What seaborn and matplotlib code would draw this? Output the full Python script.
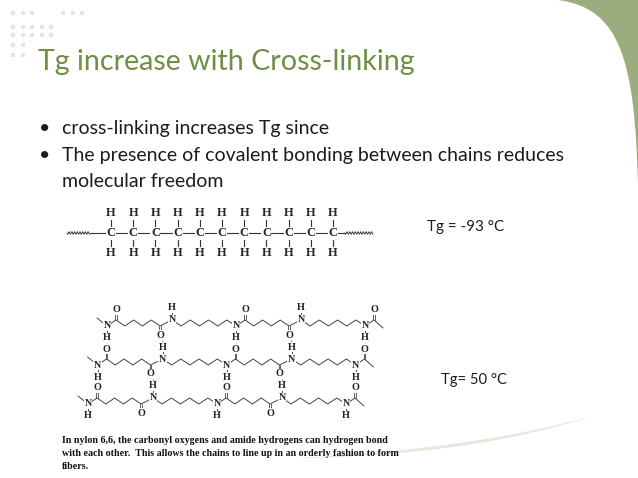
import numpy as np
import matplotlib
matplotlib.use('Agg')
import matplotlib.pyplot as plt
from matplotlib.path import Path
from matplotlib.patches import PathPatch
import seaborn as sns

# ------- slide content -------- #
title = 'Tg increase with Cross-linking'
bullets = ['cross-linking increases Tg since',
           'The presence of covalent bonding between chains reduces',
           'molecular freedom']
bullet_marks = [True, True, False]
tg_labels = ['Tg = -93 °C', 'Tg= 50 °C']
caption = ['In nylon 6,6, the carbonyl oxygens and amide hydrogens can hydrogen bond',
           'with each other.  This allows the chains to line up in an orderly fashion to form',
           'fibers.']
pe_carbons = 11          # carbons drawn in the polyethylene chain
nylon_chains = 3         # stacked nylon 6,6 chains
nylon_repeats = 2        # full repeat units per chain

# decoration dots top-left (pixel grid)
dot_x = [13, 23, 32, 63, 73, 82, 13, 23, 32, 42, 51, 13, 23, 32, 42, 51, 13, 23, 13, 23]
dot_y = [13, 13, 13, 13, 13, 13, 27, 27, 27, 27, 27, 35, 35, 35, 35, 35, 45, 45, 55, 55]

sns.set_theme(style='white')
plt.rcParams['font.family'] = ['Lato', 'DejaVu Sans']

fig = plt.figure(figsize=(6.38, 4.78), dpi=100)
ax = fig.add_axes([0, 0, 1, 1])
ax.set_xlim(0, 638)
ax.set_ylim(478, 0)
ax.axis('off')

green = '#6f8f45'
ink = '#1c1c1c'
bond = '#333333'

# green swoosh top right
verts = [(558, 0), (620, 8), (635, 60), (638, 186), (640, 186), (640, 0), (558, 0)]
codes = [Path.MOVETO, Path.CURVE4, Path.CURVE4, Path.CURVE4, Path.LINETO, Path.LINETO, Path.CLOSEPOLY]
ax.add_patch(PathPatch(Path(verts, codes), facecolor='#9bad7f', edgecolor='none'))

# faint swoosh bottom
t = np.linspace(0, 1, 60)
sx = (1 - t) ** 2 * 300 + 2 * (1 - t) * t * 470 + t ** 2 * 585
sy = (1 - t) ** 2 * 458 + 2 * (1 - t) * t * 452 + t ** 2 * 418
for i in range(len(t) - 1):
    w = 0.3 + 1.8 * np.sin(np.pi * t[i])
    ax.plot(sx[i:i + 2], sy[i:i + 2], color='#e4e9dc', lw=w, solid_capstyle='round', zorder=0)

sns.scatterplot(x=dot_x, y=dot_y, marker='s', s=10, color='#e4e4e0', edgecolor='none', ax=ax, legend=False)

# title and bullets
ax.text(38, 70, title, fontsize=20.6, color=green, va='baseline')
for i, (line, mark) in enumerate(zip(bullets, bullet_marks)):
    yb = [134, 161, 187][i]
    if mark:
        ax.text(39, yb, '•', fontsize=14, color=ink, va='baseline')
    ax.text(62, yb, line, fontsize=14, color=ink, va='baseline')

ax.text(427, 231, tg_labels[0], fontsize=10.9, color=ink, va='baseline')
ax.text(441, 384, tg_labels[1], fontsize=10.6, color=ink, va='baseline')

serif = ['Liberation Serif', 'DejaVu Serif']
bbox = dict(facecolor='white', edgecolor='none', pad=0.4)

# ------- polyethylene -------- #
cx = 111 + 22.2 * np.arange(pe_carbons)
cy = 233
ax.plot([90, cx[-1] + 12], [cy, cy], color=bond, lw=0.8)
for x in cx:
    ax.plot([x, x], [cy - 18, cy + 18], color=bond, lw=0.8)
    ax.text(x, cy, 'C', fontsize=9, family=serif, weight='bold', ha='center', va='center', bbox=bbox)
    ax.text(x, cy - 20, 'H', fontsize=9, family=serif, weight='bold', ha='center', va='center', bbox=bbox)
    ax.text(x, cy + 20, 'H', fontsize=9, family=serif, weight='bold', ha='center', va='center', bbox=bbox)
for x0, x1 in [(67, 90), (cx[-1] + 12, cx[-1] + 40)]:
    wx = np.linspace(x0, x1, 80)
    ax.plot(wx, cy + 1.3 * np.sin((wx - x0) * 2.3), color=bond, lw=0.6)

# ------- nylon 6,6 sheet -------- #
period = 129
lab = dict(fontsize=7.3, family=serif, weight='bold', ha='center', va='center', color='#222222')
for k in range(nylon_chains):
    x0 = 107 - 9.5 * k
    yc = 323 + 39 * k
    hi, lo = yc - 3, yc + 3
    pts = [(x0 - 10, hi - 2)]
    for p in range(nylon_repeats):
        b = x0 + p * period
        pts.append((b, lo))
        for j, x in enumerate(np.linspace(b + 9, b + 53, 6)):
            pts.append((x, hi if j % 2 == 0 else lo))
        for j, x in enumerate(np.linspace(b + 65, b + period, 8)[:-1]):
            pts.append((x, hi if j % 2 == 0 else lo))
    b = x0 + nylon_repeats * period
    pts += [(b, lo), (b + 9, hi), (b + 18, lo + 2)]
    px, py = zip(*pts)
    ax.plot(px, py, color='#444444', lw=0.7)

    for p in range(nylon_repeats + 1):
        b = x0 + p * period
        # amide N-H pointing down, C=O pointing up
        ax.plot([b, b], [lo, lo + 10], color='#444444', lw=0.7)
        ax.text(b, lo, 'N', bbox=bbox, **lab)
        ax.text(b, lo + 12, 'H', bbox=bbox, **lab)
        for d in (-0.8, 0.8):
            ax.plot([b + 9 + d, b + 9 + d], [hi, hi - 8], color='#444444', lw=0.6)
        ax.text(b + 9, hi - 10, 'O', bbox=bbox, **lab)
        if k < nylon_chains - 1:
            ax.plot([b, b], [lo + 15, lo + 24], color='#444444', lw=0.7, ls=(0, (1, 1.3)))
        if p == nylon_repeats:
            break
        # C=O pointing down, N-H pointing up
        for d in (-0.8, 0.8):
            ax.plot([b + 53 + d, b + 53 + d], [lo, lo + 7], color='#444444', lw=0.6)
        ax.text(b + 53, lo + 9, 'O', bbox=bbox, **lab)
        ax.plot([b + 65, b + 65], [hi, hi - 10], color='#444444', lw=0.7)
        ax.text(b + 65, hi, 'N', bbox=bbox, **lab)
        ax.text(b + 65, hi - 12, 'H', bbox=bbox, **lab)
        if k < nylon_chains - 1:
            ax.plot([b + 55, b + 55], [lo + 12, lo + 22], color='#444444', lw=0.7, ls=(0, (1, 1.3)))

for i, line in enumerate(caption):
    ax.text(62, 443 + 13 * i, line, fontsize=7.2, family=serif, weight='bold', color='#111111', va='baseline')

fig.savefig('out.png', dpi=100)
